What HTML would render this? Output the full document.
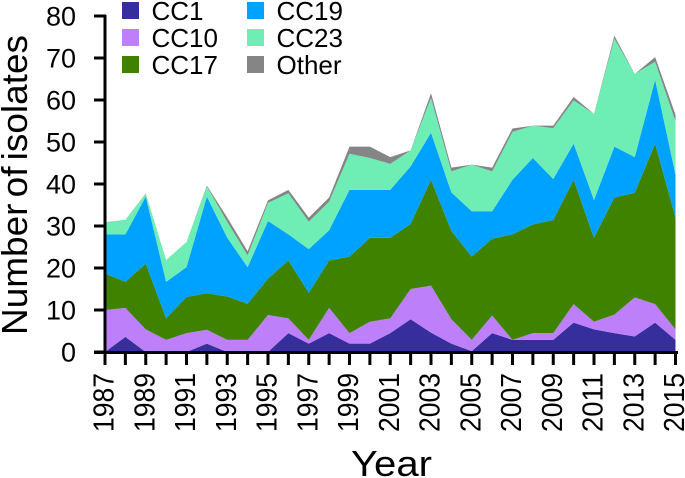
<!DOCTYPE html>
<html>
<head>
<meta charset="utf-8">
<title>Number of isolates by year</title>
<style>
html,body{margin:0;padding:0;background:#fff;}
svg{display:block;font-family:"Liberation Sans",sans-serif;}
</style>
</head>
<body>
<svg id="chart" width="685" height="478" viewBox="0 0 685 478" xmlns="http://www.w3.org/2000/svg"></svg>
<script>
const years = [1987,1988,1989,1990,1991,1992,1993,1994,1995,1996,1997,1998,1999,2000,2001,2002,2003,2004,2005,2006,2007,2008,2009,2010,2011,2012,2013,2014,2015];
const yTickValues = [0,10,20,30,40,50,60,70,80];
const seriesNames = ["CC1","CC10","CC17","CC19","CC23","Other"];
const seriesColors = ["#362e9c","#bd80fa","#3f8200","#00a2ff","#6eedb4","#858585"];
const cc1 = [0,3.6,0,0,0,2,0,0,0,4.5,2,4.5,2,2,4.5,7.8,4.6,2,0.2,4.5,2.9,2.9,2.9,7,5.4,4.5,3.7,7,2.9];
const cc10 = [10,6.9,5.4,2.9,4.5,3.3,2.9,2.9,8.8,3.5,0.9,6,2.5,5.2,3.5,7.2,11.2,5.8,2.7,4.2,0,1.6,1.6,4.4,1.8,4.4,9.3,4.4,2.5];
const cc17 = [8.7,6.2,15.6,5.1,8.6,8.7,10.3,8.6,8.7,13.8,11.2,11.3,18.2,20,19.2,15.5,25.2,21,19.8,18.3,25.1,25.9,26.9,29.6,20,27.9,24.9,38.2,26.6];
const cc19 = [9.3,11.3,16,8.7,7.1,23,14,8.7,13.7,6.2,10.4,7.2,15.9,11.4,11.4,13.7,11.2,9.2,10.8,6.5,13,15.8,9.8,8.6,9,12.1,8.5,15.2,10.2];
const cc23 = [2.8,3.5,0.6,5.2,6,2.4,3.8,2.8,4.3,9.8,6.5,6.8,8.6,7.6,6.2,3.8,8.3,5,11.1,9.5,11.4,7.7,12.1,10.3,20.5,25.7,19.8,4.3,12.7];
const other = [0.1,0,0.1,0,0,0.2,1,1,0.6,0.8,1,1,1.7,2.7,1.6,0,1.1,0.9,0,0.9,0.8,0,0.6,0.8,0,0.7,0,1.1,1.6];
const allSeries = [cc1,cc10,cc17,cc19,cc23,other];

const svg = document.getElementById('chart');
const NS = 'http://www.w3.org/2000/svg';
function x(yr){ return 105 + (yr - years[0]) * (675.5 - 105) / (years[years.length-1] - years[0]); }
function y(v){ return 352 - v * (352 - 16) / 80; }
function add(tag, attrs, parent){
  const el = document.createElementNS(NS, tag);
  for (const k in attrs) el.setAttribute(k, attrs[k]);
  (parent || svg).appendChild(el);
  return el;
}

// stacked areas
let base = years.map(() => 0);
allSeries.forEach((vals, i) => {
  const top = vals.map((v, j) => base[j] + v);
  let d = '';
  years.forEach((yr, j) => { d += (j ? 'L' : 'M') + x(yr).toFixed(2) + ' ' + y(top[j]).toFixed(2); });
  for (let j = years.length - 1; j >= 0; j--) { d += 'L' + x(years[j]).toFixed(2) + ' ' + y(base[j]).toFixed(2); }
  d += 'Z';
  const p = add('path', {d: d, fill: seriesColors[i]});
  
  
  base = top;
});

// axes
const yAxis = add('line', {x1:105, y1:15, x2:105, y2:365, stroke:'#000', 'stroke-width':3});


const xAxis = add('line', {x1:94, y1:352.5, x2:678, y2:352.5, stroke:'#000', 'stroke-width':3});



yTickValues.forEach(v => {
  const t = add('line', {x1:94, y1:y(v), x2:106, y2:y(v), stroke:'#000', 'stroke-width':3});
  
  
  const l = add('text', {x:76, y:y(v) + 9.5, 'text-anchor':'end', 'font-size':27, fill:'#000'});
  
  
  l.textContent = v;
});

years.forEach((yr, j) => {
  const t = add('line', {x1:x(yr), y1:352, x2:x(yr), y2:365, stroke:'#000', 'stroke-width':3});
  
  
  if (j % 2 === 0) {
    const l = add('text', {transform:'translate(' + (x(yr) + 8.5) + ',373) rotate(-90)', 'text-anchor':'end', 'font-size':29, textLength:59, lengthAdjust:'spacingAndGlyphs', fill:'#000'});
    
    
    l.textContent = yr;
  }
});

// axis titles
const yTitle = add('text', {transform:'translate(27,185) rotate(-90)', 'text-anchor':'middle', 'font-size':36, 'word-spacing':'-4px', textLength:300, lengthAdjust:'spacingAndGlyphs', fill:'#000'});


yTitle.textContent = 'Number of isolates';
const xTitle = add('text', {x:391.5, y:476, 'text-anchor':'middle', 'font-size':36, textLength:81, lengthAdjust:'spacingAndGlyphs', fill:'#000'});


xTitle.textContent = 'Year';

// legend
seriesNames.forEach((name, i) => {
  const col = i < 3 ? 0 : 1;
  const row = i % 3;
  const g = add('g', {});
  
  
  const sx = col ? 247 : 122;
  const sy = 2 + row * 27;
  const s = add('rect', {x:sx, y:sy, width:17, height:17, fill:seriesColors[i]}, g);
  
  
  const l = add('text', {x:sx + 29.5, y:sy + 18, 'font-size':26, fill:'#000'}, g);
  
  
  l.textContent = name;
});
</script>
</body>
</html>
